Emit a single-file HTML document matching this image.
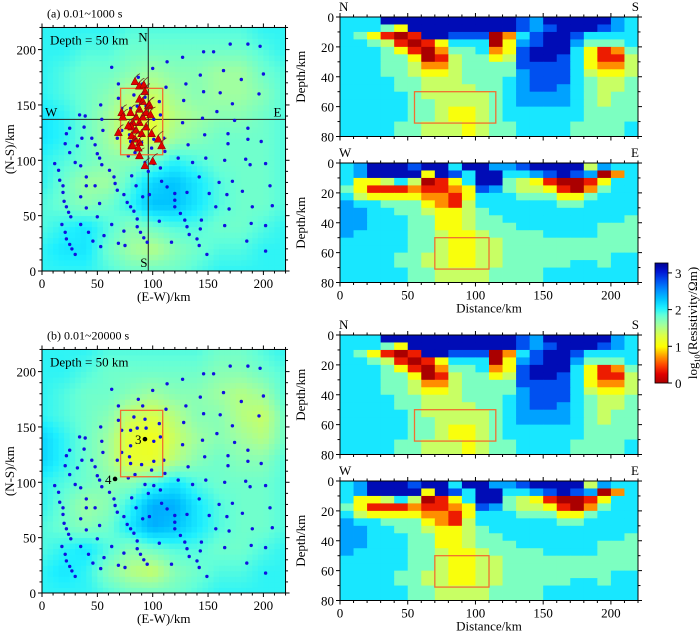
<!DOCTYPE html>
<html><head><meta charset="utf-8"><style>
html,body{margin:0;padding:0;background:#fff;}
svg{display:block;font-family:"Liberation Serif",serif;}
</style></head><body>
<svg id="fig" width="700" height="634" viewBox="0 0 700 634" xmlns="http://www.w3.org/2000/svg"></svg>
<script>
// ===== data =====
const mapTicks = [0,50,100,150,200];
const depthTicks = [0,20,40,60,80];
const distTicks = [0,50,100,150,200];
const cbTicks = [0,1,2,3];
// map (a) log10 resistivity nodes, 20 km spacing, rows from N=220 down to 0
const mapA = [
[2.0,2.0,2.0,2.0,1.9,1.9,1.9,1.9,1.9,1.9,2.0,2.0],
[2.0,2.0,1.9,1.9,1.8,1.8,1.8,1.8,1.8,1.8,1.9,2.0],
[2.0,1.9,1.8,1.8,1.7,1.6,1.7,1.7,1.6,1.6,1.8,1.9],
[2.0,1.9,1.8,1.7,1.5,1.4,1.6,1.7,1.6,1.6,1.7,1.9],
[2.1,2.0,1.8,1.6,1.3,1.2,1.5,1.6,1.7,1.7,1.8,1.9],
[2.1,2.0,1.8,1.6,1.3,1.3,1.6,1.7,1.8,1.8,1.8,1.9],
[2.0,1.9,1.8,1.7,1.7,1.8,2.0,1.9,1.8,1.8,1.8,1.9],
[2.0,1.8,1.6,1.6,1.9,2.2,2.3,2.1,1.9,1.8,1.8,1.9],
[1.9,1.8,1.7,1.8,2.0,2.3,2.3,2.1,1.9,1.8,1.8,1.9],
[1.9,2.0,2.1,1.9,1.7,1.8,1.9,1.9,1.8,1.8,1.9,2.0],
[2.0,2.1,2.1,1.8,1.6,1.5,1.7,1.8,1.9,1.9,2.0,2.0],
[2.0,2.0,2.0,1.9,1.8,1.8,1.8,1.9,2.0,2.0,2.0,2.0]];
const mapB = [
[2.0,2.0,2.0,1.9,1.9,1.9,1.9,1.9,1.8,1.8,1.9,2.0],
[2.0,2.0,1.9,1.8,1.8,1.8,1.8,1.8,1.7,1.7,1.8,1.9],
[2.0,1.9,1.8,1.8,1.7,1.6,1.7,1.7,1.6,1.5,1.6,1.9],
[2.0,1.9,1.8,1.7,1.4,1.3,1.5,1.7,1.7,1.5,1.4,1.8],
[2.2,2.0,1.8,1.6,1.2,1.1,1.4,1.6,1.7,1.6,1.5,1.8],
[2.2,2.0,1.8,1.6,1.2,1.2,1.5,1.7,1.8,1.7,1.7,1.9],
[2.0,1.9,1.8,1.7,1.7,1.9,2.1,1.9,1.8,1.8,1.8,1.9],
[2.0,1.8,1.6,1.7,2.0,2.4,2.4,2.1,1.9,1.8,1.8,1.9],
[1.9,1.8,1.7,1.8,2.1,2.4,2.3,2.1,1.9,1.8,1.8,1.9],
[1.9,2.0,2.1,1.9,1.7,1.8,1.9,1.9,1.8,1.8,1.9,2.0],
[2.0,2.1,2.0,1.7,1.5,1.4,1.7,1.8,1.9,1.9,2.0,2.0],
[2.0,2.0,2.0,1.9,1.8,1.8,1.8,1.9,2.0,2.0,2.0,2.0]];
// stations [x km, y km]
const stations = [[11.5,97],[15,91],[16,82],[19,77],[19,71],[20,63],[22,58],[24,53],[26,49],[18,42],[21,35],[22,29],[25,24],[27,20],[30,15],[22,124],[21,115],[25,129],[25,107],[32,113],[30,98],[34,141],[39,140],[36,120],[38,130],[35,95],[40,85],[40,77],[35,67],[40,57],[35,42],[42,35],[46,27],[53,22],[56,32],[50,49],[52,61],[48,77],[45,120],[48,114],[50,106],[52,102],[53,150],[54,137],[55,127],[54,96],[61,91],[63,184],[65,85],[66,79],[68,73],[63,42],[69,25],[75,23],[74,36],[74,69],[77,62],[80,58],[83,54],[86,47],[86,40],[89,35],[92,30],[95,26],[69,169],[69,156],[72,147],[72,127],[68,120],[78,104],[79,123],[80,133],[80,147],[80,117],[83,159],[86,149],[87,175],[91,169],[84,107],[85,77],[81,86],[90,116],[93,157],[94,149],[101,137],[101,119],[99,111],[93,98],[96,90],[101,97],[97,69],[91,67],[100,183],[106,153],[107,141],[110,120],[111,108],[112,166],[113,189],[107,93],[108,81],[113,76],[106,45],[117,26],[120,70],[120,64],[120,58],[123,102],[125,52],[127,134],[127,193],[128,154],[130,169],[132,114],[131,71],[129,46],[131,40],[133,33],[136,98],[140,29],[142,23],[143,177],[142,85],[143,38],[144,46],[146,198],[145,138],[146,162],[147,123],[148,102],[149,15],[151,70],[155,198],[157,58],[158,144],[160,80],[161,161],[164,181],[165,100],[165,41],[167,69],[168,124],[168,115],[169,56],[170,205],[172,151],[172,81],[174,136],[180,173],[181,72],[184,101],[185,27],[186,129],[186,119],[186,205],[188,96],[189,43],[190,58],[196,160],[197,203],[198,117],[200,178],[202,18],[202,41],[202,97],[206,77],[208,59]];
// earthquakes [x km, y km]
const quakes = [[84,171],[88,167],[92,168],[93,162],[88,155],[91,153],[96,149],[97,150],[72,143],[80,143],[88,146],[94,143],[98,141],[73,139],[85,139],[91,139],[82,134],[88,134],[94,130],[81,130],[85,127],[69,125],[90,124],[81,122],[84,119],[99,124],[88,116],[81,113],[105,119],[108,113],[88,104],[100,99],[93,95],[82,113],[87,111],[78,131]];
// sections: rows = 5 km depth bins (0-80), cols = 10 km distance bins (0-220); digit d -> log10 rho = d*0.35
const sectionNS = ["6669999999999879999976","6665399999999878999876","6531019988802689986666","6654101366603789975556","6665310255623899963125","6665530145534899863114","6665542245555888863224","6665543345555788864334","6666554445556788865445","6666554444556788765445","6666654444456777765455","6666655444456777765455","6666655433456666665555","6666655433456666665555","6666554443455666655556","6666554443455666655556"];
const sectionWE = ["6799989969977899994766","6799993986996678987026","6334640136995431001366","5311121123875443102566","6433332213666555335666","7665553214666666556666","7766554334566666666666","7766655334556666666665","7766655334555666666555","7666655433455556666555","6666655433445555555555","6666655433445555555555","6666554433445555555566","6666554433445555566566","6666655444455556666666","6666655444455556666666"];

// ===== helpers =====
const svg = document.getElementById('fig');
const NS = 'http://www.w3.org/2000/svg';
function mk(tag, attrs, parent){ const e=document.createElementNS(NS,tag); for(const k in attrs) e.setAttribute(k,attrs[k]); (parent||svg).appendChild(e); return e; }
const stops=[[0,[170,0,0]],[0.25,[225,0,0]],[0.5,[255,70,0]],[0.75,[255,160,0]],[1.0,[255,255,0]],[1.3,[220,255,70]],[1.6,[160,255,160]],[1.85,[100,255,215]],[2.05,[30,240,255]],[2.3,[0,195,255]],[2.55,[0,140,255]],[2.8,[0,80,240]],[3.05,[0,20,210]],[3.3,[0,0,140]]];
function cmap(v){ if(v<=stops[0][0]) return 'rgb('+stops[0][1]+')'; for(let i=1;i<stops.length;i++){ if(v<=stops[i][0]){ const a=stops[i-1],b=stops[i],t=(v-a[0])/(b[0]-a[0]); return 'rgb('+a[1].map((c,j)=>Math.round(c+(b[1][j]-c)*t)).join(',')+')'; } } return 'rgb('+stops[stops.length-1][1]+')'; }
function txt(x,y,s,opt,name){ const t=mk('text',Object.assign({x:x,y:y,'font-size':13,fill:'#000'},opt||{})); t.textContent=s;   return t; }

// ===== maps =====
function drawMap(grid, y0, label, showQuakes, pfx){
  const L=42, S=1.107, B=y0;
  const X=k=>L+k*S, Y=k=>B-k*S;
  const g=mk('g',{});
  
  
  const step=5;
  for(let xi=0;xi<44;xi++) for(let yi=0;yi<44;yi++){
    const xk=xi*step+step/2, yk=yi*step+step/2;
    const fx=xk/20, fy=(220-yk)/20;
    const c0=Math.min(10,Math.floor(fx)), r0=Math.min(10,Math.floor(fy));
    const tx=fx-c0, ty=fy-r0;
    const v=grid[r0][c0]*(1-tx)*(1-ty)+grid[r0][c0+1]*tx*(1-ty)+grid[r0+1][c0]*(1-tx)*ty+grid[r0+1][c0+1]*tx*ty;
    const r=mk('rect',{x:X(xi*step).toFixed(2),y:Y(yi*step+step).toFixed(2),width:(step*S+0.4).toFixed(2),height:(step*S+0.4).toFixed(2),fill:cmap(v)},g);
    
    
  }
  if(showQuakes){
    const l1=mk('line',{x1:X(96),y1:Y(220),x2:X(96),y2:Y(0),stroke:'#222','stroke-width':1},g);
     
    const l2=mk('line',{x1:X(0),y1:Y(137),x2:X(220),y2:Y(137),stroke:'#222','stroke-width':1},g);
     
    txt(X(96)-10,Y(220)+14,'N',{},'profile-label-n');
    txt(X(96)-8,Y(0)-4,'S',{},'profile-label-s');
    txt(X(0)+3,Y(137)-3,'W',{},'profile-label-w');
    txt(X(220)-12,Y(137)-3,'E',{},'profile-label-e');
  }
  stations.forEach(p=>{
    const c=mk('circle',{cx:X(p[0]).toFixed(1),cy:Y(p[1]).toFixed(1),r:1.7,fill:'#1010e0'},g);
    
    
  });
  const bx=mk('rect',{x:X(71),y:Y(165),width:(38*S).toFixed(1),height:(60*S).toFixed(1),fill:'none',stroke:'#f07030','stroke-width':1.3},g);
   
  if(showQuakes){
    quakes.forEach(p=>{
      const x=X(p[0]),y=Y(p[1]);
      const t=mk('polygon',{points:`${x},${y-4.5} ${x-4},${y+3} ${x+4},${y+3}`,fill:'#e00000',stroke:'#800000','stroke-width':0.5},g);
      
      
      const s=mk('path',{d:`M${x},${y-4} l3,-3 l2,-1`,stroke:'#602020','stroke-width':0.7,fill:'none'},g);
      
      
    });
  } else {
    const d3=mk('circle',{cx:X(93),cy:Y(139),r:2.3,fill:'#000'},g);
     
    txt(X(93)-10,Y(139)+5,'3',{},'site-3-label');
    const d4=mk('circle',{cx:X(66),cy:Y(103),r:2.3,fill:'#000'},g);
     
    txt(X(66)-10,Y(103)+5,'4',{},'site-4-label');
  }
  const wb=mk('rect',{x:X(0)+3,y:Y(220)+3,width:78,height:19,fill:'none'},g);
   
  txt(X(0)+8,Y(220)+17,'Depth = 50 km',{},'depth-label');
  const fr=mk('rect',{x:X(0),y:Y(220),width:220*S,height:220*S,fill:'none',stroke:'#000','stroke-width':1},g);
   
  for(let k=0;k<=220;k+=10){
    const maj=k%50===0, len=maj?4:2.5;
    mk('line',{x1:X(k),y1:Y(0),x2:X(k),y2:Y(0)+len,stroke:'#000'},g);
    mk('line',{x1:X(k),y1:Y(220),x2:X(k),y2:Y(220)-len,stroke:'#000'},g);
    mk('line',{x1:X(0),y1:Y(k),x2:X(0)-len,y2:Y(k),stroke:'#000'},g);
    mk('line',{x1:X(220),y1:Y(k),x2:X(220)+len,y2:Y(k),stroke:'#000'},g);
  }
  mapTicks.forEach(k=>{
    txt(X(k),Y(0)+17,String(k),{'text-anchor':'middle'},'x-tick-label');
    txt(X(0)-6,Y(k)+5,String(k),{'text-anchor':'end'},'y-tick-label');
  });
  txt(X(110),Y(0)+30,'(E-W)/km',{'text-anchor':'middle'},'x-axis-title');
  txt(0,0,'(N-S)/km',{'text-anchor':'middle',transform:`translate(14,${Y(110)}) rotate(-90)`},'y-axis-title');
  txt(47,Y(220)-10,label,{'font-size':12},'panel-title');
}
drawMap(mapA,271,'(a) 0.01~1000 s',true,'a');
drawMap(mapB,593,'(b) 0.01~20000 s',false,'b');

// ===== sections =====
function drawSection(rows, top, left, right, boxX, showDist, pfx){
  const L=340, S=298/220, H=119.5/80;
  const X=k=>L+k*S, Y=d=>top+d*H;
  const g=mk('g',{});
  
  
  rows.forEach((row,ri)=>{
    for(let ci=0;ci<row.length;ci++){
      const v=parseInt(row[ci])*0.35;
      const r=mk('rect',{x:X(ci*10).toFixed(2),y:Y(ri*5).toFixed(2),width:(10*S+0.4).toFixed(2),height:(5*H+0.4).toFixed(2),fill:cmap(v)},g);
      
      
    }
  });
  const bx=mk('rect',{x:X(boxX[0]),y:Y(50),width:((boxX[1]-boxX[0])*S).toFixed(1),height:(21*H).toFixed(1),fill:'none',stroke:'#f07030','stroke-width':1.3},g);
   
  const fr=mk('rect',{x:X(0),y:Y(0),width:220*S,height:80*H,fill:'none',stroke:'#000','stroke-width':1},g);
   
  for(let k=0;k<=220;k+=10){
    const len=k%50===0?4:2.5;
    mk('line',{x1:X(k),y1:Y(0),x2:X(k),y2:Y(0)-len,stroke:'#000'},g);
    mk('line',{x1:X(k),y1:Y(80),x2:X(k),y2:Y(80)+len,stroke:'#000'},g);
  }
  for(let d=0;d<=80;d+=10){
    const len=d%20===0?4:2.5;
    mk('line',{x1:X(0),y1:Y(d),x2:X(0)-len,y2:Y(d),stroke:'#000'},g);
    mk('line',{x1:X(220),y1:Y(d),x2:X(220)+len,y2:Y(d),stroke:'#000'},g);
  }
  depthTicks.forEach(d=>txt(X(0)-6,Y(d)+5,String(d),{'text-anchor':'end'},'depth-tick-label'));
  if(showDist){
    distTicks.forEach(k=>txt(X(k),Y(80)+17,String(k),{'text-anchor':'middle'},'distance-tick-label'));
    txt(X(110),Y(80)+30,'Distance/km',{'text-anchor':'middle'},'distance-axis-title');
  }
  txt(0,0,'Depth/km',{'text-anchor':'middle',transform:`translate(305,${Y(40)}) rotate(-90)`},'depth-axis-title');
  txt(X(0)-1,Y(0)-6,left,{},'section-start-label');
  txt(X(220)+1,Y(0)-6,right,{'text-anchor':'end'},'section-end-label');
}
drawSection(sectionNS,17,'N','S',[55,115],false,'a-ns');
drawSection(sectionWE,163,'W','E',[70,110],true,'a-we');
drawSection(sectionNS,335,'N','S',[55,115],false,'b-ns');
drawSection(sectionWE,481,'W','E',[70,110],true,'b-we');

// ===== colorbar =====
(function(){
  const g=mk('g',{});
  
  
  const x0=655,w=13,yb=383,yt=263,vmax=3.27;
  const Yc=v=>yb-(v/vmax)*(yb-yt);
  for(let i=0;i<120;i++){
    const v=(i+0.5)/120*vmax;
    mk('rect',{x:x0,y:(yb-(i+1)*(yb-yt)/120).toFixed(2),width:w,height:((yb-yt)/120+0.3).toFixed(2),fill:cmap(v)},g);
  }
  mk('rect',{x:x0,y:yt,width:w,height:yb-yt,fill:'none',stroke:'#000','stroke-width':0.8},g);
  cbTicks.forEach(v=>{
    mk('line',{x1:x0+w,y1:Yc(v),x2:x0+w+4,y2:Yc(v),stroke:'#000'},g);
    txt(x0+w+7,Yc(v)+5,String(v),{},'colorbar-tick-label');
  });
  const t=mk('text',{x:0,y:0,'font-size':13,'text-anchor':'middle',transform:'translate(697,323) rotate(-90)'},g);
  
  
  t.innerHTML='log<tspan font-size="8" dy="3">10</tspan><tspan dy="-3">(Resistivity/Ωm)</tspan>';
})();
</script>
</body></html>
